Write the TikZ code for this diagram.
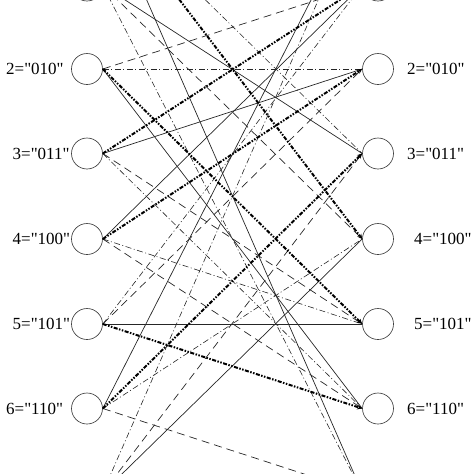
\documentclass[tikz,border=0pt]{standalone}
\usepackage{fontspec}
\newfontfamily\labfont{Liberation Serif}
\usetikzlibrary{arrows.meta}
\begin{document}
\begin{tikzpicture}[x=1pt,y=-1pt,
  state/.style={circle, draw=black!75, fill=white, line width=0.65pt, minimum size=31pt, inner sep=0pt},
  lab/.style={anchor=west, inner sep=0pt, font=\labfont\fontsize{17}{20}\selectfont},
  solidE/.style={line width=0.7pt, draw=black!85},
  dashedE/.style={line width=0.7pt, draw=black!85, dash pattern=on 8pt off 5pt},
  dashdotE/.style={line width=0.6pt, draw=black!85, dash pattern=on 6pt off 2.5pt on 1pt off 2.5pt},
  heavyE/.style={line width=2pt, draw=black, dash pattern=on 4pt off 1.5pt on 1.5pt off 1.5pt on 1.5pt off 1.5pt,
    -{Stealth[length=5pt,width=5pt]}}
]
\useasboundingbox (0,0) rectangle (474,474);
\clip (0,0) rectangle (474,474);

% labels (drawn first, circles cover their ends)
\node[lab] (t2) at (6,69) {2="010"};
\node[lab] (t3) at (12.5,153.5) {3="011"};
\node[lab] (t4) at (12.5,239) {4="100"};
\node[lab] (t5) at (12.5,324) {5="101"};
\node[lab] (t6) at (6,408.5) {6="110"};
\node[lab] (u2) at (407,69) {2="010"};
\node[lab] (u3) at (407,153.5) {3="011"};
\node[lab] (u4) at (414,239) {4="100"};
\node[lab] (u5) at (414,324) {5="101"};
\node[lab] (u6) at (407,408.5) {6="110"};

% off-screen rows
\coordinate (L0) at (102.5,-101);
\coordinate (R0) at (362.5,-101);
\coordinate (L7) at (102.5,493);
\coordinate (R7) at (362.5,493);
\node[state] (L1n) at (87,-14.5) {};
\node[state] (R1n) at (378,-14.5) {};
\coordinate (L1) at (L1n.east);
\coordinate (R1) at (R1n.west);

% visible nodes
\node[state] (L2n) at (87,69) {};
\node[state] (L3n) at (87,153.5) {};
\node[state] (L4n) at (87,239) {};
\node[state] (L5n) at (87,324) {};
\node[state] (L6n) at (87,408.5) {};
\node[state] (R2n) at (378,69) {};
\node[state] (R3n) at (378,153.5) {};
\node[state] (R4n) at (378,239) {};
\node[state] (R5n) at (378,324) {};
\node[state] (R6n) at (378,408.5) {};
\foreach \k in {2,...,6}{
  \coordinate (L\k) at (L\k n.east);
  \coordinate (R\k) at (R\k n.west);
}

% solid
\foreach \a/\b in {0/7,1/3,2/6,3/2,4/1,5/5,6/0,7/4}
  \draw[solidE] (L\a) -- (R\b);
% dash-dot
\foreach \a/\b in {0/3,1/7,2/2,3/6,4/5,5/1,6/4,7/0}
  \draw[dashdotE] (L\a) -- (R\b);
% dashed
\foreach \a/\b in {0/0,1/4,2/1,3/5,4/6,5/2,6/7,7/3}
  \draw[dashedE] (L\a) -- (R\b);
% heavy
\foreach \a/\b in {0/4,1/0,2/5,3/1,4/2,5/6,6/3,7/7}
  \draw[heavyE] (L\a) -- (R\b);
\end{tikzpicture}
\end{document}
